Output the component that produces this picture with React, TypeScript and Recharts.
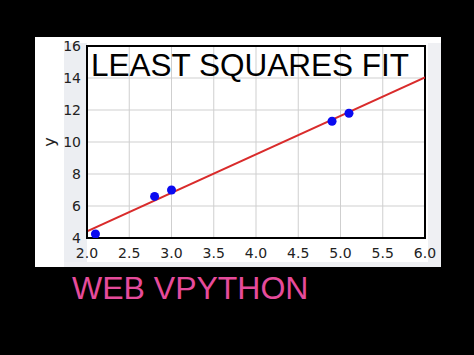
import React from 'react';
import {
  ComposedChart,
  Line,
  Scatter,
  XAxis,
  YAxis,
  CartesianGrid,
  ReferenceArea,
} from 'recharts';

// measured points
const points = [
  { x: 2.1, y: 4.25 },
  { x: 2.8, y: 6.6 },
  { x: 3.0, y: 7.0 },
  { x: 4.9, y: 11.3 },
  { x: 5.1, y: 11.8 },
];

// fitted line end points
const fitLine = [
  { x: 2.0, fit: 4.42 },
  { x: 6.0, fit: 14.03 },
];

const xTicks = [2.0, 2.5, 3.0, 3.5, 4.0, 4.5, 5.0, 5.5, 6.0];
const yTicks = [4, 6, 8, 10, 12, 14, 16];

const tickStyle = { fill: '#222', fontSize: 14, fontFamily: 'DejaVu Sans' };

const App: React.FC = () => {
  return (
    <div style={{ position: 'fixed', left: 0, top: 0, width: 474, height: 355, background: '#000', overflow: 'hidden' }}>
      {/* white panel behind the plot */}
      <div style={{ position: 'absolute', left: 35, top: 37, width: 406, height: 230, background: '#fff' }} />
      <div style={{ position: 'absolute', left: 64, top: 43, width: 23, height: 219, background: '#eceef2' }} />
      <div style={{ position: 'absolute', left: 428, top: 43, width: 13, height: 224, background: '#eff0f3' }} />
      <div style={{ position: 'absolute', left: 64, top: 262, width: 377, height: 5, background: '#eff0f3' }} />
      <div style={{ position: 'absolute', left: 0, top: 0 }}>
        <ComposedChart width={474} height={355} margin={{ top: 46, right: 49, bottom: 87, left: 37 }}>
          <CartesianGrid stroke="#cfcfcf" strokeWidth={1} />
          <XAxis
            type="number"
            dataKey="x"
            domain={[2, 6]}
            ticks={xTicks}
            tickFormatter={(v: number) => v.toFixed(1)}
            tick={tickStyle}
            tickLine={false}
            tickMargin={4}
            axisLine={{ stroke: '#000', strokeWidth: 2 }}
            height={30}
            allowDataOverflow
          />
          <YAxis
            type="number"
            domain={[4, 16]}
            ticks={yTicks}
            tick={tickStyle}
            tickLine={false}
            tickMargin={0}
            axisLine={{ stroke: '#000', strokeWidth: 2 }}
            width={50}
            label={{ value: 'y', angle: -90, position: 'insideLeft', offset: 12, textAnchor: 'middle', fill: '#222', fontSize: 16, fontFamily: 'DejaVu Sans' }}
            allowDataOverflow
          />
          <ReferenceArea x1={2} x2={6} y1={4} y2={16} fill="none" stroke="#000" strokeWidth={2} ifOverflow="visible" />
          <Line
            data={fitLine}
            dataKey="fit"
            stroke="#d92b2b"
            strokeWidth={2}
            dot={false}
            isAnimationActive={false}
          />
          <Scatter data={points} dataKey="y" fill="#0b0bf0" shape="circle" isAnimationActive={false} />
        </ComposedChart>
      </div>
      <svg width={474} height={355} style={{ position: 'absolute', left: 0, top: 0, pointerEvents: 'none' }}>
        <text x={91} y={76} fontFamily="Liberation Sans" fontSize={31.5} fill="#000">
          LEAST SQUARES FIT
        </text>
        <text x={72} y={299} fontFamily="Liberation Sans" fontSize={32} fill="#e64b9b">
          WEB VPYTHON
        </text>
      </svg>
    </div>
  );
};

export default App;
